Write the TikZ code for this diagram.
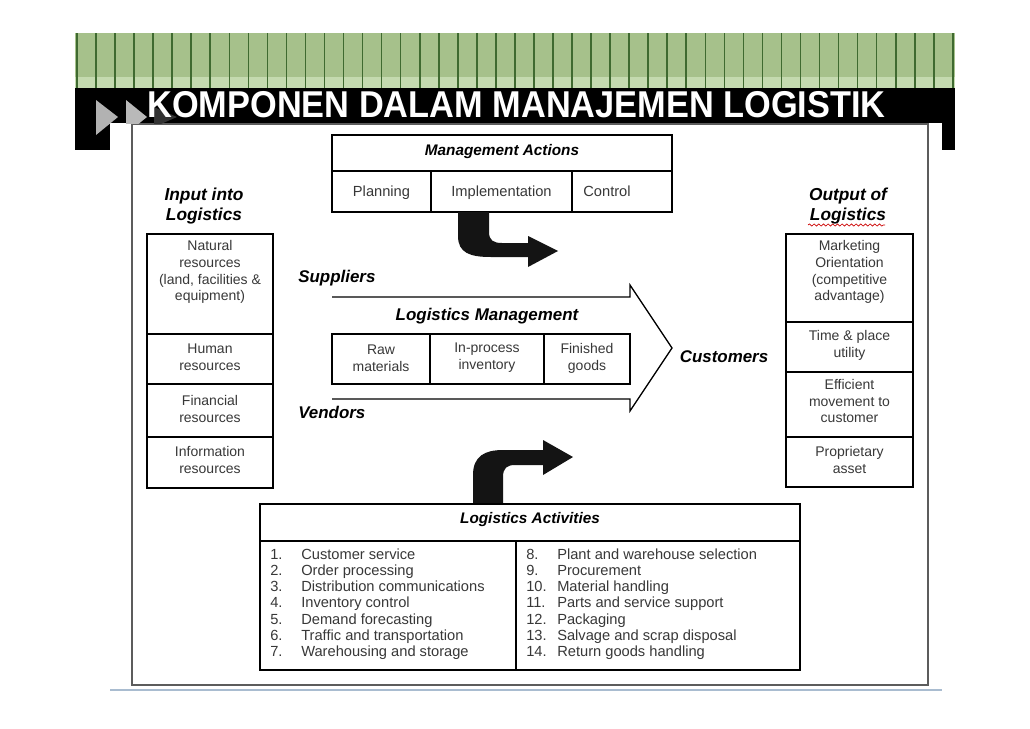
\documentclass[tikz,border=0pt]{standalone}
\usepackage{fontspec}
\setmainfont{Liberation Sans}
\usetikzlibrary{arrows.meta,calc,positioning,decorations.pathmorphing}
\definecolor{stripegreen}{HTML}{3F6A30}
\definecolor{leafgreen}{HTML}{A6C18B}
\definecolor{palegreen}{HTML}{C4DAAF}
\definecolor{framegray}{HTML}{5C5C5C}
\definecolor{bodytext}{HTML}{383838}
\definecolor{ruleblue}{HTML}{A9BCD0}
\tikzset{line width=.8pt,
  every node/.style={font=\fontsize{11}{12.4}\selectfont,text=bodytext,inner sep=0pt},
  grid/.style={draw=black,line width=1.1pt},
  title/.style={font=\fontsize{28}{28}\selectfont\bfseries,text=white},
  head/.style={font=\fontsize{11.5}{13}\selectfont\bfseries\itshape,text=black},
  bighead/.style={font=\fontsize{13}{15}\selectfont\bfseries\itshape,text=black,align=center},
  flowlabel/.style={font=\fontsize{12.7}{14}\selectfont\bfseries\itshape,text=black},
  cell/.style={align=center},
  smallcell/.style={font=\fontsize{10.5}{12.6}\selectfont,align=center},
  bendarrow/.style={fill=black!92}}

\begin{document}
\begin{tikzpicture}[x=.75pt,y=-.75pt]
\fill[white](0,0)rectangle(1030,728);
\useasboundingbox(0,0)rectangle(1030,728);
% banner
\fill[leafgreen](75,33)rectangle(955,88);
\fill[palegreen](75,77)rectangle(955,88);
\foreach \i in {0,...,46}\draw[stripegreen,line width=1.2pt]({77+19.04*\i},33)--({77+19.04*\i},88);
\fill[black](75,88)rectangle(955,123);
\fill[black](75,123)rectangle(110,150);
\fill[black](942,123)rectangle(955,150);
\draw[framegray,line width=1.5pt](132,124)rectangle(928,685);
\fill[gray!60](96,100)--(118,117)--(96,135)--cycle;
\begin{scope}
\clip(110,88)rectangle(955,123);
\fill[gray!55](126,100)--(147,117)--(126,134)--cycle;
\fill[gray!40!black](154,107)--(177,117)--(154,127)--cycle;
\end{scope}
\node[title,anchor=base](ttl)at(516.5,117){\scalebox{.92}[1]{KOMPONEN DALAM MANAJEMEN LOGISTIK}};
% management actions
\draw[grid](332,135)rectangle(672,212);
\draw[grid](332,171)--(672,171)(431,171)--(431,212)(572,171)--(572,212);
\node[head](mact)at(502,152){Management Actions};
\node[anchor=base](plan)at(381.5,196){Planning};
\node[anchor=base](impl)at(501.5,196){Implementation};
\node[anchor=base](ctrl)at(607,196){Control};
\fill[bendarrow](458,212)--(458,236)..controls(458,253)and(470,257)..(491,257)--(528,257)--(528,267)--(558,251)--(528,236)--(528,243)--(502,243)..controls(493,243)and(489,240)..(489,232)--(489,212)--cycle;
% input column
\node[bighead](inhead)at(204,206){Input into\\Logistics};
\draw[grid](147,234)rectangle(273,488);
\draw[grid](147,334)--(273,334)(147,384)--(273,384)(147,437)--(273,437);
\node[smallcell](natres)at(210,272){Natural\\resources\\(land, facilities \&\\equipment)};
\node[smallcell](humres)at(210,357){Human\\resources};
\node[smallcell](finres)at(210,409){Financial\\resources};
\node[smallcell](infres)at(210,460){Information\\resources};
% flow
\draw[line width=1pt](332,297)--(630,297)--(630,285)--(672,348)--(630,411)--(630,399)--(332,399);
\node[flowlabel,anchor=west](supp)at(298,278){Suppliers};
\node[flowlabel,anchor=west](vend)at(298,412){Vendors};
\node[flowlabel](cust)at(724,357){Customers};
\node[flowlabel](lmhead)at(487,316){Logistics Management};
\draw[grid](332,334)rectangle(630,384);
\draw[grid](430,334)--(430,384)(544,334)--(544,384);
\node[smallcell](raw)at(381,358){Raw\\materials};
\node[smallcell](inproc)at(487,358){In-process\\inventory};
\node[smallcell](fin)at(587,358){Finished\\goods};
% output column
\node[bighead](outhead)at(848,206){Output of\\Logistics};
\draw[red!80!black,line width=.5pt,decorate,decoration={snake,amplitude=.8pt,segment length=3.5pt}](808,225)--(885,225);
\draw[grid](786,234)rectangle(913,487);
\draw[grid](786,322)--(913,322)(786,372)--(913,372)(786,437)--(913,437);
\node[smallcell](mkt)at(849.5,272){Marketing\\Orientation\\(competitive\\advantage)};
\node[smallcell](util)at(849.5,345){Time \& place\\utility};
\node[smallcell](move)at(849.5,401){Efficient\\movement to\\customer};
\node[smallcell](asset)at(849.5,460){Proprietary\\asset};
% activities
\fill[bendarrow](473,504)--(473,475)..controls(473,456)and(485,450)..(503,450)--(543,450)--(543,440)--(573,457)--(543,475)--(543,465)--(515,465)..controls(507,465)and(503,468)..(503,477)--(503,504)--cycle;
\draw[grid](260,504)rectangle(800,670);
\draw[grid](260,541)--(800,541)(516,541)--(516,670);
\node[head](lahead)at(530,520){Logistics Activities};
\foreach \k/\t in {1/Customer service,2/Order processing,3/Distribution communications,4/Inventory control,5/Demand forecasting,6/Traffic and transportation,7/Warehousing and storage}{
  \node[anchor=base west](num\k)at(270,{559+16.3*(\k-1)}){\k.};
  \node[anchor=base west](act\k)at(301,{559+16.3*(\k-1)}){\t};}
\foreach \k/\t in {8/Plant and warehouse selection,9/Procurement,10/Material handling,11/Parts and service support,12/Packaging,13/Salvage and scrap disposal,14/Return goods handling}{
  \node[anchor=base west](num\k)at(526,{559+16.3*(\k-8)}){\k.};
  \node[anchor=base west](act\k)at(557,{559+16.3*(\k-8)}){\t};}
\draw[ruleblue,line width=2pt](110,690)--(942,690);
\end{tikzpicture}
\end{document}
